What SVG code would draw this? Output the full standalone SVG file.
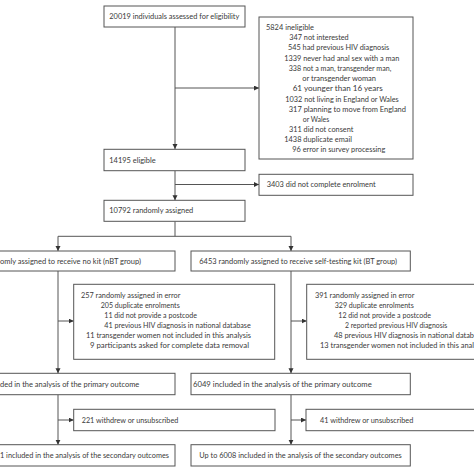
<svg xmlns="http://www.w3.org/2000/svg" width="474" height="474" viewBox="0 0 474 474">
<defs>
<marker id="ah" markerUnits="userSpaceOnUse" markerWidth="6" markerHeight="6" refX="5" refY="2.5" orient="auto">
<path d="M0,0 L5,2.5 L0,5 z" fill="#333"/>
</marker>
<style>
.box{fill:#fff;stroke:#555;stroke-width:1}
.t{font-family:Lato,"Liberation Sans",sans-serif;font-size:7.3px;fill:#3a3a3a}
.c{fill:none;stroke:#555;stroke-width:1}
.a{fill:none;stroke:#555;stroke-width:1;marker-end:url(#ah)}
</style>
</defs>
<rect width="474" height="474" fill="#fff"/>
<g id="connectors">
<path class="a" d="M175,27 V149"/>
<path class="a" d="M175,88 H259"/>
<path class="a" d="M175,170.7 V200.3"/>
<path class="a" d="M175,184.5 H259"/>
<path class="c" d="M175,221.3 V236.3 M58,236.3 H291"/>
<path class="a" d="M58,236.3 V251"/>
<path class="a" d="M291,236.3 V251"/>
<path class="a" d="M58,271 V373.3"/>
<path class="a" d="M58,321 H73.7"/>
<path class="a" d="M291,271 V373.3"/>
<path class="a" d="M291,321 H306.7"/>
<path class="a" d="M58,394.7 V444.7"/>
<path class="a" d="M58,420 H73.7"/>
<path class="a" d="M291,394.7 V444.7"/>
<path class="a" d="M291,420 H306"/>
</g>
<g id="assessed">
<rect class="box" x="104" y="6" width="141" height="21"/>
<text class="t" x="109.3" y="19" textLength="130" lengthAdjust="spacingAndGlyphs">20019 individuals assessed for eligibility</text>
</g>
<g id="ineligible">
<rect class="box" x="259" y="17" width="154" height="142"/>
<text class="t" x="266" y="30" textLength="48" lengthAdjust="spacingAndGlyphs">5824 ineligible</text>
<text class="t" x="289.3" y="40.2" textLength="59.4" lengthAdjust="spacingAndGlyphs">347 not interested</text>
<text class="t" x="288" y="50.4" textLength="101.3" lengthAdjust="spacingAndGlyphs">545 had previous HIV diagnosis</text>
<text class="t" x="284.3" y="60.7" textLength="115" lengthAdjust="spacingAndGlyphs">1339 never had anal sex with a man</text>
<text class="t" x="288.7" y="71" textLength="102.6" lengthAdjust="spacingAndGlyphs">338 not a man, transgender man,</text>
<text class="t" x="302.3" y="81.2" textLength="73.7" lengthAdjust="spacingAndGlyphs">or transgender woman</text>
<text class="t" x="292.7" y="91.3" textLength="90" lengthAdjust="spacingAndGlyphs">61 younger than 16 years</text>
<text class="t" x="285.3" y="101.5" textLength="113.4" lengthAdjust="spacingAndGlyphs">1032 not living in England or Wales</text>
<text class="t" x="288.7" y="111.6" textLength="117.3" lengthAdjust="spacingAndGlyphs">317 planning to move from England</text>
<text class="t" x="302.7" y="121.6" textLength="26.6" lengthAdjust="spacingAndGlyphs">or Wales</text>
<text class="t" x="289" y="131.7" textLength="64.3" lengthAdjust="spacingAndGlyphs">311 did not consent</text>
<text class="t" x="284.3" y="141.7" textLength="67.7" lengthAdjust="spacingAndGlyphs">1438 duplicate email</text>
<text class="t" x="292.3" y="151.7" textLength="93" lengthAdjust="spacingAndGlyphs">96 error in survey processing</text>
</g>
<g id="eligible">
<rect class="box" x="104" y="149.3" width="141" height="21.4"/>
<text class="t" x="109.3" y="163.2" textLength="46.4" lengthAdjust="spacingAndGlyphs">14195 eligible</text>
</g>
<g id="notcomplete">
<rect class="box" x="259" y="174.3" width="154" height="21"/>
<text class="t" x="266.7" y="187.3" textLength="109" lengthAdjust="spacingAndGlyphs">3403 did not complete enrolment</text>
</g>
<g id="randomised">
<rect class="box" x="104" y="200.3" width="141" height="21"/>
<text class="t" x="109.3" y="213.3" textLength="84" lengthAdjust="spacingAndGlyphs">10792 randomly assigned</text>
</g>
<g id="nbt">
<rect class="box" x="-2" y="251" width="177" height="20"/>
<text class="t" x="0" y="263.5" textLength="141" lengthAdjust="spacingAndGlyphs">omly assigned to receive no kit (nBT group)</text>
</g>
<g id="bt">
<rect class="box" x="191" y="251" width="219.3" height="20"/>
<text class="t" x="199.3" y="263.5" textLength="197.7" lengthAdjust="spacingAndGlyphs">6453 randomly assigned to receive self-testing kit (BT group)</text>
</g>
<g id="nbt-excluded">
<rect class="box" x="73.7" y="284.3" width="201" height="75"/>
<text class="t" x="81" y="298.2" textLength="99.3" lengthAdjust="spacingAndGlyphs">257 randomly assigned in error</text>
<text class="t" x="100.7" y="308.2" textLength="79" lengthAdjust="spacingAndGlyphs">205 duplicate enrolments</text>
<text class="t" x="104.3" y="318.2" textLength="92.7" lengthAdjust="spacingAndGlyphs">11 did not provide a postcode</text>
<text class="t" x="104.3" y="328.2" textLength="146.4" lengthAdjust="spacingAndGlyphs">41 previous HIV diagnosis in national database</text>
<text class="t" x="86" y="338.2" textLength="165" lengthAdjust="spacingAndGlyphs">11 transgender women not included in this analysis</text>
<text class="t" x="90" y="348.2" textLength="159" lengthAdjust="spacingAndGlyphs">9 participants asked for complete data removal</text>
</g>
<g id="bt-excluded">
<rect class="box" x="306.7" y="284.3" width="170" height="75"/>
<text class="t" x="315" y="298.2" textLength="99.3" lengthAdjust="spacingAndGlyphs">391 randomly assigned in error</text>
<text class="t" x="334.7" y="308.2" textLength="79" lengthAdjust="spacingAndGlyphs">329 duplicate enrolments</text>
<text class="t" x="338.3" y="318.2" textLength="92.7" lengthAdjust="spacingAndGlyphs">12 did not provide a postcode</text>
<text class="t" x="345" y="328.2" textLength="102.3" lengthAdjust="spacingAndGlyphs">2 reported previous HIV diagnosis</text>
<text class="t" x="334" y="338.2" textLength="140" lengthAdjust="spacingAndGlyphs">48 previous HIV diagnosis in national datab</text>
<text class="t" x="320" y="348.2" textLength="154" lengthAdjust="spacingAndGlyphs">13 transgender women not included in this anal</text>
</g>
<g id="nbt-primary">
<rect class="box" x="-2" y="373.3" width="177" height="21.4"/>
<text class="t" x="0" y="386.5" textLength="139.3" lengthAdjust="spacingAndGlyphs">ded in the analysis of the primary outcome</text>
</g>
<g id="bt-primary">
<rect class="box" x="191" y="373.3" width="219.3" height="21.4"/>
<text class="t" x="193" y="386.5" textLength="178.7" lengthAdjust="spacingAndGlyphs">6049 included in the analysis of the primary outcome</text>
</g>
<g id="nbt-withdrew">
<rect class="box" x="73.7" y="409.3" width="201.3" height="21.4"/>
<text class="t" x="81.7" y="422.5" textLength="96.6" lengthAdjust="spacingAndGlyphs">221 withdrew or unsubscribed</text>
</g>
<g id="bt-withdrew">
<rect class="box" x="306" y="409.3" width="170" height="21.4"/>
<text class="t" x="320" y="422.5" textLength="93.3" lengthAdjust="spacingAndGlyphs">41 withdrew or unsubscribed</text>
</g>
<g id="nbt-secondary">
<rect class="box" x="-2" y="444.7" width="177" height="21.3"/>
<text class="t" x="0" y="457.8" textLength="169" lengthAdjust="spacingAndGlyphs">1 included in the analysis of the secondary outcomes</text>
</g>
<g id="bt-secondary">
<rect class="box" x="191" y="444.7" width="219.3" height="21.3"/>
<text class="t" x="199.3" y="457.8" textLength="202.4" lengthAdjust="spacingAndGlyphs">Up to 6008 included in the analysis of the secondary outcomes</text>
</g>
</svg>
